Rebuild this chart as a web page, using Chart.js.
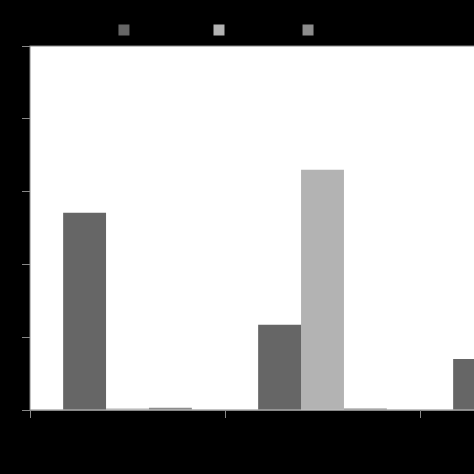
<!DOCTYPE html>
<html><head><style>html,body{margin:0;padding:0;background:#000;overflow:hidden;width:474px;height:474px}#wrap{width:810px;height:474px}</style>
<script src="https://cdn.jsdelivr.net/npm/chart.js@4"></script></head>
<body><div id="wrap"><canvas id="c"></canvas></div>
<script>
const categories = ["Group 1", "Group 2", "Group 3", "Group 4"];
const seriesNames = ["Series Alpha", "Series Beta", "Series C"];
const seriesA = [2.71, 1.17, 0.70, 1.5];
const seriesB = [0.02, 3.30, 0.9, 0.6];
const seriesC = [0.03, 0.02, 0.5, 0.4];
const colors = ["#666666", "#b3b3b3", "#8c8c8c"];

const bgPlugin = {
  id: 'bg',
  afterLayout(chart) {
    chart.legend.left = 0; chart.legend.right = 484;
  },
  beforeDatasetsDraw(chart) {
    const {ctx, chartArea: a} = chart;
    ctx.save(); ctx.fillStyle = '#fff';
    ctx.fillRect(a.left, a.top, a.right - a.left, a.bottom - a.top);
    ctx.strokeStyle = '#888'; ctx.lineWidth = 1;
    ctx.strokeRect(a.left, a.top, a.right - a.left, a.bottom - a.top);
    ctx.restore();
  }
};

new Chart(document.getElementById('c'), {
  type: 'bar',
  data: {
    labels: categories,
    datasets: [seriesA, seriesB, seriesC].map((d, i) => ({
      label: seriesNames[i], data: d, backgroundColor: colors[i], borderWidth: 0
    }))
  },
  options: {
    responsive: true, maintainAspectRatio: false, animation: false,
    datasets: { bar: { barPercentage: 1, categoryPercentage: 0.66 } },
    layout: { padding: { top: 14, left: 0, right: 0, bottom: 0 } },
    plugins: {
      legend: { position: 'top', labels: { boxWidth: 11, boxHeight: 11, color: '#000', font: { size: 12 }, padding: 10 } },
      tooltip: { enabled: false }
    },
    scales: {
      x: {
        grid: { offset: true, drawOnChartArea: false, color: '#888', tickLength: 8 },
        border: { color: '#888' },
        ticks: { color: '#000' },
        afterFit(s) { s.height = 64; }
      },
      y: {
        min: 0, max: 5,
        ticks: { stepSize: 1, color: '#000' },
        grid: { drawOnChartArea: false, color: '#888', tickLength: 8 },
        border: { color: '#888' },
        afterFit(s) { s.width = 30; }
      }
    }
  },
  plugins: [bgPlugin]
});
</script></body></html>
